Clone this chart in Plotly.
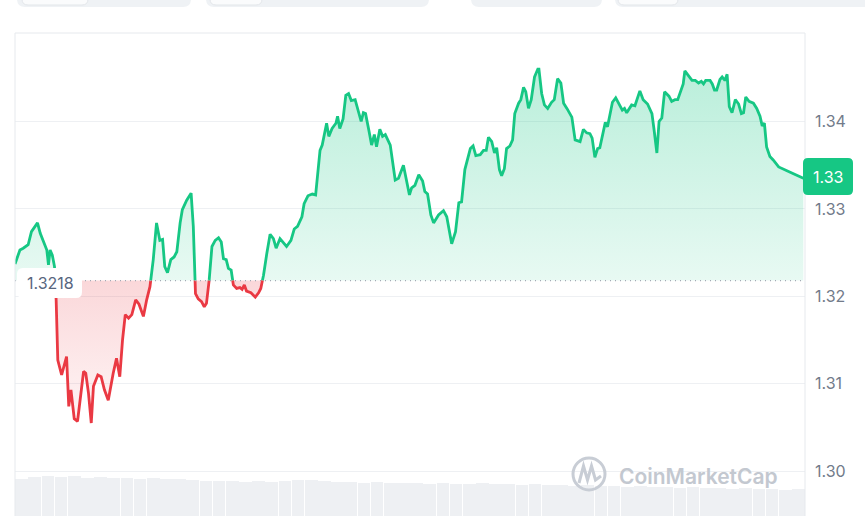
import plotly.graph_objects as go

# ---------------- data ----------------
minutes = [0, 9, 15, 24, 30, 36, 41, 46, 52, 58, 61, 64, 68, 72, 75, 78, 85, 94, 98, 102,
           108, 114, 120, 125, 129, 134, 139, 143, 151, 157, 163, 170, 179, 185, 191, 196, 201, 207, 213, 220,
           226, 234, 240, 246, 252, 258, 264, 269, 273, 278, 284, 290, 295, 301, 305, 313, 321, 325, 329, 334,
           340, 345, 349, 354, 359, 365, 371, 376, 380, 385, 389, 394, 398, 404, 410, 414, 418, 422, 430, 438,
           444, 448, 453, 459, 465, 471, 476, 483, 495, 503, 509, 515, 523, 527, 534, 542, 548, 556, 560, 568,
           572, 578, 585, 588, 592, 598, 603, 608, 613, 620, 626, 631, 635, 639, 645, 650, 655, 659, 665, 670,
           675, 684, 693, 699, 708, 714, 719, 723, 729, 736, 743, 747, 752, 758, 763, 772, 781, 787, 796, 803,
           809, 814, 820, 830, 835, 840, 848, 854, 859, 863, 869, 874, 878, 883, 887, 892, 896, 902, 907, 911,
           918, 922, 927, 931, 936, 941, 947, 953, 955, 960, 965, 971, 978, 983, 989, 995, 1000, 1006, 1012, 1015,
           1021, 1030, 1036, 1042, 1048, 1052, 1057, 1062, 1066, 1076, 1080, 1089, 1095, 1101, 1107, 1111, 1115, 1124, 1130, 1139,
           1145, 1153, 1161, 1165, 1170, 1174, 1179, 1184, 1192, 1197, 1203, 1208, 1214, 1218, 1221, 1227, 1234, 1240, 1246, 1251,
           1255, 1259, 1267, 1271, 1275, 1279, 1285, 1289, 1294, 1298, 1302, 1307, 1313, 1319, 1324, 1328, 1332, 1338, 1346, 1352,
           1358, 1362, 1366, 1370, 1376, 1382, 1392, 1416, 1437]

prices = [1.3237, 1.3253, 1.3255, 1.3259, 1.3274, 1.3280, 1.3284, 1.3272, 1.3262, 1.3253, 1.3236, 1.3253, 1.3247, 1.3234, 1.3196, 1.3127, 1.3110, 1.3131, 1.3074, 1.3093,
          1.3060, 1.3057, 1.3089, 1.3114, 1.3112, 1.3089, 1.3055, 1.3097, 1.3110, 1.3108, 1.3093, 1.3081, 1.3112, 1.3129, 1.3108, 1.3150, 1.3179, 1.3175, 1.3179, 1.3196,
          1.3191, 1.3177, 1.3196, 1.3211, 1.3242, 1.3284, 1.3264, 1.3265, 1.3234, 1.3227, 1.3242, 1.3245, 1.3251, 1.3284, 1.3299, 1.3310, 1.3318, 1.3280, 1.3203, 1.3197,
          1.3194, 1.3188, 1.3192, 1.3219, 1.3257, 1.3264, 1.3267, 1.3262, 1.3243, 1.3242, 1.3232, 1.3230, 1.3213, 1.3209, 1.3210, 1.3208, 1.3213, 1.3206, 1.3204, 1.3199,
          1.3204, 1.3209, 1.3224, 1.3249, 1.3271, 1.3266, 1.3255, 1.3266, 1.3257, 1.3264, 1.3277, 1.3280, 1.3291, 1.3306, 1.3315, 1.3317, 1.3316, 1.3367, 1.3373, 1.3398,
          1.3383, 1.3392, 1.3398, 1.3406, 1.3392, 1.3403, 1.3430, 1.3432, 1.3424, 1.3425, 1.3411, 1.3400, 1.3410, 1.3409, 1.3390, 1.3373, 1.3385, 1.3371, 1.3391, 1.3383,
          1.3385, 1.3373, 1.3333, 1.3335, 1.3350, 1.3329, 1.3316, 1.3324, 1.3327, 1.3339, 1.3332, 1.3320, 1.3317, 1.3293, 1.3284, 1.3293, 1.3298, 1.3291, 1.3260, 1.3274,
          1.3307, 1.3308, 1.3345, 1.3369, 1.3372, 1.3361, 1.3362, 1.3367, 1.3367, 1.3382, 1.3377, 1.3364, 1.3370, 1.3345, 1.3338, 1.3346, 1.3369, 1.3372, 1.3379, 1.3409,
          1.3421, 1.3425, 1.3439, 1.3434, 1.3415, 1.3425, 1.3451, 1.3460, 1.3460, 1.3432, 1.3419, 1.3415, 1.3422, 1.3425, 1.3449, 1.3444, 1.3421, 1.3415, 1.3409, 1.3405,
          1.3379, 1.3377, 1.3391, 1.3387, 1.3386, 1.3381, 1.3359, 1.3369, 1.3370, 1.3399, 1.3394, 1.3422, 1.3427, 1.3419, 1.3413, 1.3415, 1.3410, 1.3419, 1.3418, 1.3435,
          1.3425, 1.3420, 1.3409, 1.3390, 1.3364, 1.3400, 1.3404, 1.3434, 1.3429, 1.3423, 1.3425, 1.3425, 1.3437, 1.3443, 1.3458, 1.3453, 1.3447, 1.3447, 1.3444, 1.3446,
          1.3443, 1.3447, 1.3447, 1.3443, 1.3436, 1.3436, 1.3448, 1.3451, 1.3447, 1.3454, 1.3417, 1.3410, 1.3425, 1.3420, 1.3409, 1.3410, 1.3428, 1.3423, 1.3421, 1.3415,
          1.3406, 1.3395, 1.3398, 1.3371, 1.3360, 1.3356, 1.3348, 1.3341, 1.3335]

base_price = 1.3218
base_label = "1.3218"
current_label = "1.33"

vol_minutes = [12 + 24 * i for i in range(60)]
volumes = [3.7, 3.9, 4.0, 3.9, 4.0, 3.8, 3.9, 3.8, 3.8, 3.7,
           3.8, 3.7, 3.7, 3.6, 3.5, 3.5, 3.5, 3.4, 3.5, 3.4,
           3.5, 3.6, 3.6, 3.5, 3.4, 3.4, 3.3, 3.4, 3.3, 3.3,
           3.3, 3.2, 3.3, 3.2, 3.2, 3.3, 3.2, 3.2, 3.1, 3.2,
           3.1, 3.1, 3.0, 3.1, 3.0, 3.0, 2.9, 3.0, 2.9, 2.9,
           2.8, 2.9, 2.8, 2.8, 2.7, 2.8, 2.7, 2.7, 2.6, 2.7]

tick_vals = [1.30, 1.31, 1.32, 1.33, 1.34]
tick_text = ["1.30", "1.31", "1.32", "1.33", "1.34"]

# ---------------- styling ----------------
GREEN = "#16c784"
RED = "#ea3943"
W, H = 865, 516
PL, PT, PW, PH = 15, 33, 790, 483
Y_TOP, Y_BOT = 1.350126, 1.294863


def px(x):
    return (x - PL) / PW


def py(y):
    return (PT + PH - y) / PH


def rrect(x0, y0, x1, y1, r):
    return (f"M {px(x0 + r)},{py(y0)} L {px(x1 - r)},{py(y0)} Q {px(x1)},{py(y0)} {px(x1)},{py(y0 + r)} "
            f"L {px(x1)},{py(y1 - r)} Q {px(x1)},{py(y1)} {px(x1 - r)},{py(y1)} "
            f"L {px(x0 + r)},{py(y1)} Q {px(x0)},{py(y1)} {px(x0)},{py(y1 - r)} "
            f"L {px(x0)},{py(y0 + r)} Q {px(x0)},{py(y0)} {px(x0 + r)},{py(y0)} Z")


# insert baseline crossings
xs, ys = [], []
for i, (m, p) in enumerate(zip(minutes, prices)):
    if i > 0:
        p0, m0 = prices[i - 1], minutes[i - 1]
        if (p0 - base_price) * (p - base_price) < 0:
            t = (base_price - p0) / (p - p0)
            xs.append(m0 + t * (m - m0))
            ys.append(base_price)
    xs.append(m)
    ys.append(p)

eps = 1e-9
green_line = [y if y >= base_price - eps else None for y in ys]
red_line = [y if y <= base_price + eps else None for y in ys]
green_fill = [max(y, base_price) for y in ys]
red_fill = [min(y, base_price) for y in ys]
base_arr = [base_price] * len(xs)

fig = go.Figure()

fig.add_trace(go.Bar(x=vol_minutes, y=volumes, yaxis="y2", width=23,
                     marker=dict(color="#eef0f3", line=dict(width=0)), hoverinfo="skip"))

fig.add_trace(go.Scatter(x=xs, y=base_arr, mode="lines", line=dict(width=0), hoverinfo="skip"))
fig.add_trace(go.Scatter(x=xs, y=green_fill, mode="lines", line=dict(width=0), fill="tonexty",
                         fillgradient=dict(type="vertical", start=base_price, stop=1.3462,
                                           colorscale=[[0, "rgba(22,199,132,0.10)"], [1, "rgba(22,199,132,0.30)"]]),
                         hoverinfo="skip"))
fig.add_trace(go.Scatter(x=xs, y=base_arr, mode="lines", line=dict(width=0), hoverinfo="skip"))
fig.add_trace(go.Scatter(x=xs, y=red_fill, mode="lines", line=dict(width=0), fill="tonexty",
                         fillgradient=dict(type="vertical", start=1.3055, stop=base_price,
                                           colorscale=[[0, "rgba(234,57,67,0.05)"], [1, "rgba(234,57,67,0.20)"]]),
                         hoverinfo="skip"))
fig.add_trace(go.Scatter(x=xs, y=green_line, mode="lines", line=dict(color=GREEN, width=2.8),
                         connectgaps=False, hoverinfo="skip"))
fig.add_trace(go.Scatter(x=xs, y=red_line, mode="lines", line=dict(color=RED, width=2.8),
                         connectgaps=False, hoverinfo="skip"))

shapes = []
# dotted baseline
shapes.append(dict(type="line", xref="paper", yref="y", x0=0, x1=1, y0=base_price, y1=base_price,
                   line=dict(color="#a3a9b4", width=1.2, dash="1px,4px"), layer="above"))
# frame
shapes.append(dict(type="rect", xref="paper", yref="paper", x0=0, x1=1, y0=-0.05, y1=1,
                   line=dict(color="#e6e9ed", width=1), layer="above"))
# baseline label box
shapes.append(dict(type="path", xref="paper", yref="paper", path=rrect(17, 268, 82, 298, 6),
                   fillcolor="white", line=dict(width=0), layer="above"))
# current price box
shapes.append(dict(type="path", xref="paper", yref="paper", path=rrect(803, 158, 853, 195, 5),
                   fillcolor=GREEN, line=dict(width=0), layer="above"))
# top UI tabs
for (a, b) in [(17, 191), (206, 429), (471, 602), (615, 880)]:
    shapes.append(dict(type="path", xref="paper", yref="paper", path=rrect(a, -12, b, 7, 8),
                       fillcolor="#eff2f5", line=dict(width=0), layer="above"))
for (a, b) in [(22, 88), (210, 262), (618, 678)]:
    shapes.append(dict(type="path", xref="paper", yref="paper", path=rrect(a, -12, b, 5, 6),
                       fillcolor="#fafbfc", line=dict(color="#e3e6ea", width=1), layer="above"))
# watermark logo
shapes.append(dict(type="circle", xref="paper", yref="paper", x0=px(573), x1=px(605), y0=py(490), y1=py(458),
                   line=dict(color="#c8cdd5", width=3), layer="above"))
shapes.append(dict(type="path", xref="paper", yref="paper",
                   path=(f"M {px(579)},{py(483)} L {px(583.5)},{py(466)} L {px(587.5)},{py(480)} "
                         f"L {px(591.5)},{py(466)} L {px(595.5)},{py(480)} L {px(601)},{py(476)}"),
                   line=dict(color="#c8cdd5", width=3), layer="above"))

annotations = [
    dict(xref="paper", yref="paper", x=px(25), y=py(283), xanchor="left", yanchor="middle",
         text=base_label, showarrow=False, font=dict(size=16, color="#58667e")),
    dict(xref="paper", yref="paper", x=px(828), y=py(177), xanchor="center", yanchor="middle",
         text=current_label, showarrow=False, font=dict(size=16, color="white")),
    dict(xref="paper", yref="paper", x=px(617), y=py(476), xanchor="left", yanchor="middle",
         text="CoinMarketCap", showarrow=False, font=dict(size=21, color="#c3c8d0", weight=600)),
]

fig.update_layout(
    width=W, height=H,
    margin=dict(l=PL, r=W - PL - PW, t=PT, b=0),
    paper_bgcolor="white", plot_bgcolor="white",
    showlegend=False,
    font=dict(family="Inter, sans-serif"),
    bargap=0,
    xaxis=dict(range=[0, 1440], visible=False, fixedrange=True),
    yaxis=dict(range=[Y_BOT, Y_TOP], side="right", tickvals=tick_vals, ticktext=tick_text,
               tickfont=dict(size=16, color="#727b8a"), ticklabelstandoff=9,
               showgrid=True, gridcolor="#eef0f3", gridwidth=1, zeroline=False, showline=False, ticks=""),
    yaxis2=dict(range=[0, 48.3], overlaying="y", visible=False),
    shapes=shapes,
    annotations=annotations,
)

fig.write_html("out.html", config={"displayModeBar": False},
               post_script="document.body.style.margin='0';document.body.style.overflow='hidden';")
